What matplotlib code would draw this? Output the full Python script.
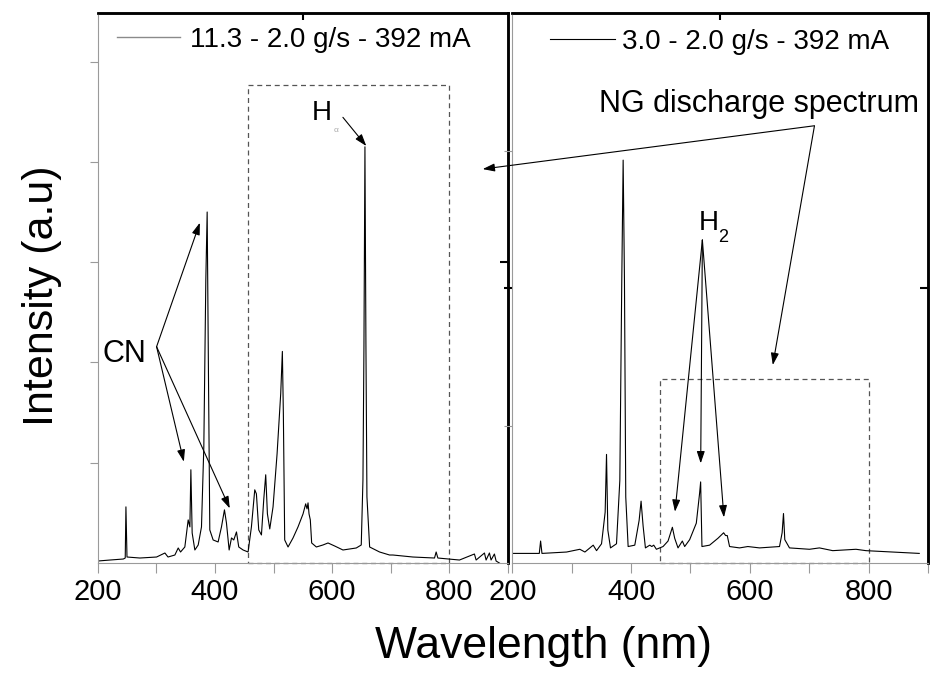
import matplotlib
matplotlib.use('Agg')
import matplotlib.pyplot as plt
from matplotlib.lines import Line2D
from matplotlib.patches import Rectangle, ConnectionPatch
from matplotlib.ticker import MultipleLocator
plt.rcParams['font.family'] = 'Liberation Sans'

###############################################################################
# Data
###############################################################################
LEFT_LABEL = '11.3 - 2.0 g/s - 392 mA'
RIGHT_LABEL = '3.0 - 2.0 g/s - 392 mA'
WL_LEFT = [
    200, 221, 243.7, 247, 248.2, 250, 272, 300.5, 314.7, 320, 331.7, 337.4,
    341.4, 348.7, 354.4, 357.3, 359, 361.2, 365.8, 371.5, 377.1, 381.1,
    384.5, 386.8, 389.1, 391.3, 397, 405.5, 411.2, 416.3, 419.7, 424.3,
    428.3, 432.2, 436.8, 440.7, 448.1, 456.6, 462.3, 468, 470.8, 474.8,
    479.4, 483.3, 486.7, 489.6, 493.6, 499.2, 506.1, 512.3, 515.1, 516.8,
    519.1, 524.8, 533.3, 541.8, 550.4, 554.9, 557.2, 558.9, 560.6, 562.8,
    565.1, 573.1, 584.4, 593, 604.3, 618.5, 641.2, 649.7, 652.6, 654.3,
    656, 657.7, 659.4, 664, 681, 698, 703.7, 737.8, 774.7, 777.5, 780.4,
    817.3, 842.8, 845.7, 859.9, 862.7, 868.4, 871.2, 876.9, 879.8, 885.4
]
INT_LEFT = [
    0.02, 0.03, 0.04, 0.05, 0.56, 0.06, 0.05, 0.06, 0.10, 0.06, 0.08, 0.15,
    0.11, 0.16, 0.43, 0.36, 0.93, 0.30, 0.13, 0.18, 0.36, 1.16,
    2.82, 3.50, 1.82, 0.33, 0.23, 0.21, 0.36, 0.53, 0.40, 0.13,
    0.25, 0.23, 0.31, 0.16, 0.13, 0.11, 0.36, 0.73, 0.69, 0.33,
    0.28, 0.63, 0.88, 0.49, 0.34, 0.56, 1.09, 1.69, 2.11, 1.49,
    0.23, 0.16, 0.25, 0.36, 0.49, 0.59, 0.54, 0.60, 0.49, 0.43,
    0.20, 0.16, 0.18, 0.20, 0.17, 0.13, 0.15, 0.18, 0.83, 2.16,
    4.15, 2.16, 0.66, 0.16, 0.11, 0.08, 0.08, 0.06, 0.05, 0.11, 0.05,
    0.03, 0.09, 0.03, 0.10, 0.03, 0.10, 0.03, 0.09, 0.02, 0.0
]
WL_RIGHT = [
    201.7, 235.3, 245.4, 247.6, 249.9, 291.3, 313.7, 322.2, 336.2, 341.8,
    350.2, 356.3, 358.6, 360.8, 365.3, 375.4, 381, 384.3, 386.6, 388.8,
    391, 395, 406.2, 413.5, 416.8, 420.2, 424.1, 431.4, 434.8, 438.1,
    442.6, 453.8, 462.2, 469.5, 473.4, 479, 486.3, 490.2, 498.6, 509.8,
    515.4, 517.1, 519.3, 532.2, 546.2, 555.8, 559.1, 561.9, 565.8, 582.6,
    596.6, 616.3, 649.9, 654.3, 656.6, 658.8, 666.7, 700.3, 717.1, 739.5,
    778.7, 795.5, 840.3, 885.2
]
INT_RIGHT = [
    0.07, 0.07, 0.07, 0.16, 0.07, 0.08, 0.10, 0.08, 0.13, 0.09,
    0.14, 0.37, 0.79, 0.24, 0.11, 0.14, 0.60, 2.06, 2.93, 2.06,
    0.48, 0.12, 0.13, 0.31, 0.45, 0.27, 0.11, 0.13, 0.12, 0.13,
    0.10, 0.12, 0.16, 0.26, 0.18, 0.11, 0.16, 0.12, 0.17, 0.29,
    0.51, 0.59, 0.12, 0.13, 0.18, 0.22, 0.20, 0.20, 0.12, 0.11,
    0.12, 0.11, 0.12, 0.22, 0.36, 0.17, 0.11, 0.10, 0.11, 0.09,
    0.10, 0.09, 0.08, 0.07
]
# dashed boxes (wl_min, wl_max, top)
BOX_LEFT = (456, 800, 4.77)
BOX_RIGHT = (449, 800, 1.34)
###############################################################################
# Figure
###############################################################################
GREY = '#9a9a9a'
ARW = '-|>,head_length=0.6,head_width=0.2'
fig = plt.figure(figsize=(9.53, 6.73), dpi=100)
axL = fig.add_axes([0.1025, 0.1634, 0.4305, 0.8177])
axR = fig.add_axes([0.5376, 0.1634, 0.4362, 0.8177])

def style_axes(ax, ymax, rtick):
    ax.set_xlim(200, 900)
    ax.set_ylim(0, ymax)
    ax.xaxis.set_major_locator(MultipleLocator(200))
    ax.xaxis.set_minor_locator(MultipleLocator(100))
    ax.tick_params(axis='x', which='both', direction='out', length=7,
                   width=0.8, color=GREY, labelsize=21, pad=4)
    ax.set_xticks([200, 400, 600, 800])
    ax.tick_params(axis='y', which='both', direction='out', length=6,
                   width=0.8, color=GREY, labelleft=False)
    for s in ('left', 'bottom'):
        ax.spines[s].set_color(GREY)
        ax.spines[s].set_linewidth(0.8)
    for s in ('top', 'right'):
        ax.spines[s].set_color('k')
        ax.spines[s].set_linewidth(1.8)
    sx = ax.secondary_xaxis('top')
    sx.set_xticks([550], labels=[])
    sx.tick_params(direction='in', length=5, width=1.5, color='k')
    sx.spines['top'].set_linewidth(1.8)
    sy = ax.secondary_yaxis('right')
    sy.set_yticks([rtick], labels=[])
    sy.tick_params(direction='in', length=6, width=1.5, color='k')
    sy.spines['right'].set_linewidth(1.8)

# Left panel ------------------------------------------------------------------
axL.plot(WL_LEFT, INT_LEFT, color='k', lw=0.8)
style_axes(axL, 5.487, 3)
axL.set_yticks([1, 2, 3, 4, 5])
axL.add_patch(Rectangle((BOX_LEFT[0], 0), BOX_LEFT[1]-BOX_LEFT[0], BOX_LEFT[2],
                        fill=False, ls=(0, (4, 3)), lw=0.9, ec='#555555',
                        clip_on=False))
axL.legend(handles=[Line2D([], [], color='#8a8a8a', lw=1)], labels=[LEFT_LABEL],
           loc='center left', bbox_to_anchor=(0.0463, 0.9508), frameon=False,
           fontsize=20, handlelength=2.27, handletextpad=0.36, borderpad=0,
           borderaxespad=0)
axL.text(244.8, 2.0, 'CN', fontsize=22, ha='center', va='baseline')
for tgt in [(374.3, 3.393), (347, 1.01), (425.4, 0.545)]:
    axL.annotate('', xy=tgt, xytext=(300.5, 2.157),
                 arrowprops=dict(arrowstyle=ARW, color='k', lw=0.8,
                                 mutation_scale=12, shrinkA=0, shrinkB=0))
axL.text(582, 4.417, 'H', fontsize=20, ha='center', va='baseline')
axL.text(606, 4.30, 'α', fontsize=6, color='#aaaaaa', ha='center', va='baseline')
axL.annotate('', xy=(658.3, 4.158), xytext=(618.4, 4.444),
             arrowprops=dict(arrowstyle=ARW, color='k', lw=0.8,
                             mutation_scale=12, shrinkA=0, shrinkB=0))

# Right panel -----------------------------------------------------------------
axR.plot(WL_RIGHT, INT_RIGHT, color='k', lw=0.8)
style_axes(axR, 4.002, 2)
axR.set_yticks([2])
axR.set_yticks([1, 3], minor=True)
axR.tick_params(axis='y', which='major', color='k', width=1.5)
axR.add_patch(Rectangle((BOX_RIGHT[0], 0), BOX_RIGHT[1]-BOX_RIGHT[0], BOX_RIGHT[2],
                        fill=False, ls=(0, (4, 3)), lw=0.9, ec='#555555',
                        clip_on=False))
axR.legend(handles=[Line2D([], [], color='k', lw=0.8)], labels=[RIGHT_LABEL],
           loc='center left', bbox_to_anchor=(0.0907, 0.9464), frameon=False,
           fontsize=20, handlelength=2.34, handletextpad=0.24, borderpad=0,
           borderaxespad=0)
axR.text(616, 3.28, 'NG discharge spectrum', fontsize=22, ha='center',
         va='baseline')
axR.annotate('', xy=(638.6, 1.44), xytext=(708.7, 3.178),
             arrowprops=dict(arrowstyle=ARW, color='k', lw=0.8,
                             mutation_scale=12, shrinkA=0, shrinkB=0))
fig.add_artist(ConnectionPatch(
    xyA=(708.7, 3.18), coordsA=axR.transData,
    xyB=(856.9, 3.928), coordsB=axL.transData,
    arrowstyle=ARW, color='k', lw=0.8, mutation_scale=12,
    shrinkA=0, shrinkB=0
))
axR.text(513.8, 2.422, 'H', fontsize=20, ha='left', va='baseline')
axR.text(545.7, 2.335, '2', fontsize=13, ha='left', va='baseline')
for tgt in [(473.9, 0.373), (517.2, 0.725), (556.3, 0.332)]:
    axR.annotate('', xy=tgt, xytext=(520, 2.349),
                 arrowprops=dict(arrowstyle=ARW, color='k', lw=0.8,
                                 mutation_scale=12, shrinkA=0, shrinkB=0))

# Shared labels ---------------------------------------------------------------
fig.text(0.57, 0.0223, 'Wavelength (nm)', fontsize=32, ha='center',
         va='baseline')
fig.text(0.044, 0.56, 'Intensity (a.u)', fontsize=31, ha='center',
         va='center', rotation=90)

fig.savefig('out.png', dpi=100)
plt.close('all')
